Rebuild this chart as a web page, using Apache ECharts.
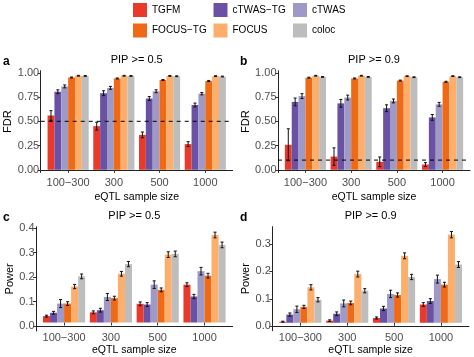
<!DOCTYPE html>
<html>
<head>
<meta charset="utf-8">
<script src="https://cdn.jsdelivr.net/npm/echarts/dist/echarts.min.js"></script>
<style>
html,body{margin:0;padding:0;background:#fff;}
#chart{width:474px;height:357px;}
</style>
</head>
<body>
<div id="chart"></div>
<script>
// ---------- data ----------
const methods = ['TGFM', 'cTWAS−TG', 'cTWAS', 'FOCUS−TG', 'FOCUS', 'coloc'];
const sampleSizes = ['100−300', '300', '500', '1000'];

// rows follow methods, columns follow sampleSizes
const fdr05Mean = [
  [0.560, 0.450, 0.360, 0.265],
  [0.805, 0.790, 0.735, 0.668],
  [0.860, 0.845, 0.810, 0.785],
  [0.952, 0.942, 0.926, 0.915],
  [0.970, 0.970, 0.968, 0.966],
  [0.968, 0.968, 0.965, 0.962]
];
const fdr05Err = [
  [0.050, 0.040, 0.030, 0.025],
  [0.020, 0.025, 0.020, 0.020],
  [0.015, 0.015, 0.015, 0.012],
  [0.005, 0.005, 0.005, 0.005],
  [0.004, 0.004, 0.004, 0.004],
  [0.004, 0.004, 0.004, 0.004]
];
const fdr09Mean = [
  [0.258, 0.136, 0.082, 0.054],
  [0.700, 0.685, 0.635, 0.540],
  [0.760, 0.745, 0.710, 0.675],
  [0.950, 0.942, 0.920, 0.908],
  [0.970, 0.970, 0.966, 0.966],
  [0.958, 0.958, 0.955, 0.955]
];
const fdr09Err = [
  [0.165, 0.090, 0.050, 0.020],
  [0.040, 0.040, 0.035, 0.030],
  [0.025, 0.025, 0.020, 0.020],
  [0.005, 0.005, 0.005, 0.005],
  [0.004, 0.004, 0.004, 0.004],
  [0.004, 0.004, 0.004, 0.004]
];
const pow05Mean = [
  [0.027, 0.043, 0.079, 0.160],
  [0.041, 0.052, 0.076, 0.110],
  [0.080, 0.108, 0.160, 0.217],
  [0.080, 0.103, 0.138, 0.198],
  [0.152, 0.206, 0.287, 0.370],
  [0.195, 0.247, 0.290, 0.328]
];
const pow05Err = [
  [0.004, 0.006, 0.008, 0.008],
  [0.006, 0.008, 0.008, 0.009],
  [0.017, 0.015, 0.016, 0.016],
  [0.008, 0.008, 0.008, 0.010],
  [0.009, 0.010, 0.012, 0.012],
  [0.010, 0.011, 0.012, 0.012]
];
const pow09Mean = [
  [0.004, 0.008, 0.018, 0.069],
  [0.031, 0.034, 0.054, 0.082],
  [0.051, 0.073, 0.109, 0.165],
  [0.060, 0.075, 0.105, 0.144],
  [0.134, 0.184, 0.253, 0.333],
  [0.087, 0.121, 0.173, 0.220]
];
const pow09Err = [
  [0.002, 0.003, 0.004, 0.007],
  [0.006, 0.007, 0.008, 0.009],
  [0.012, 0.013, 0.014, 0.015],
  [0.006, 0.007, 0.008, 0.009],
  [0.010, 0.011, 0.011, 0.012],
  [0.008, 0.008, 0.010, 0.011]
];
const fdrTicks = [0, 0.25, 0.5, 0.75, 1.0];
const pow05Ticks = [0, 0.1, 0.2, 0.3, 0.4];
const pow09Ticks = [0, 0.1, 0.2, 0.3];
const fdrThresholds = [0.5, 0.1];
const panelTitles = ['PIP >= 0.5', 'PIP >= 0.9', 'PIP >= 0.5', 'PIP >= 0.9'];
const panelLetters = ['a', 'b', 'c', 'd'];

// ---------- styling / layout ----------
const colors = ['#E8392B', '#6A51A3', '#9E9AC8', '#EF6A17', '#FDAE6B', '#BDBDBD'];
const FONT = 'Liberation Sans, Arial, Helvetica, sans-serif';

const panels = [
  {mean: fdr05Mean, err: fdr05Err, ticks: fdrTicks, dec: 2, min: -0.028, max: 1.022, yname: 'FDR', thr: fdrThresholds[0],
   frame: {left: 40.7, top: 70.7, width: 192, height: 101.8}, nameGapY: 26, nameGapX: 19, labelMargin: 5},
  {mean: fdr09Mean, err: fdr09Err, ticks: fdrTicks, dec: 2, min: -0.028, max: 1.022, yname: 'FDR', thr: fdrThresholds[1],
   frame: {left: 278, top: 70.7, width: 192, height: 101.8}, nameGapY: 26, nameGapX: 19, labelMargin: 5},
  {mean: pow05Mean, err: pow05Err, ticks: pow05Ticks, dec: 1, min: -0.019, max: 0.405, yname: 'Power', thr: null,
   frame: {left: 36, top: 226.7, width: 196.6, height: 104.3}, nameGapY: 21, nameGapX: 18, labelMargin: 5},
  {mean: pow09Mean, err: pow09Err, ticks: pow09Ticks, dec: 1, min: -0.016, max: 0.363, yname: 'Power', thr: null,
   frame: {left: 272.3, top: 226.7, width: 196.7, height: 104}, nameGapY: 21, nameGapX: 18, labelMargin: 5}
];

const grid = [], xAxis = [], yAxis = [], series = [], title = [];

panels.forEach((p, pi) => {
  const f = p.frame;
  const inset = f.width * 0.1 / 4.2;
  const fi = 2 * pi, bi = 2 * pi + 1;
  grid.push({left: f.left, top: f.top, width: f.width, height: f.height});
  grid.push({left: f.left + inset, top: f.top, width: f.width - 2 * inset, height: f.height});

  // frame axes
  xAxis.push({type: 'value', gridIndex: fi, min: 0, max: 1,
    axisLine: {show: true, lineStyle: {color: '#222', width: 1}},
    axisTick: {show: false}, axisLabel: {show: false}, splitLine: {show: false}});
  yAxis.push({type: 'value', gridIndex: fi, min: p.min, max: p.max,
    name: p.yname, nameLocation: 'middle', nameGap: p.nameGapY, nameRotate: 90,
    nameTextStyle: {fontFamily: FONT, fontSize: 11, color: '#000'},
    axisLine: {show: true, lineStyle: {color: '#222', width: 1}},
    axisTick: {show: true, length: 3, customValues: p.ticks, lineStyle: {color: '#333'}},
    axisLabel: {show: true, customValues: p.ticks, margin: 1.5, fontFamily: FONT, fontSize: 11, color: '#4D4D4D',
      formatter: v => Number(v).toFixed(p.dec)},
    splitLine: {show: false}});

  // bar axes
  xAxis.push({type: 'category', gridIndex: bi, data: sampleSizes,
    name: 'eQTL sample size', nameLocation: 'middle', nameGap: p.nameGapX,
    nameTextStyle: {fontFamily: FONT, fontSize: 10.5, color: '#000'},
    axisLine: {show: false},
    axisTick: {show: true, alignWithLabel: true, length: 3, lineStyle: {color: '#333'}},
    axisLabel: {interval: 0, margin: p.labelMargin, fontFamily: FONT, fontSize: 11, color: '#4D4D4D'},
    splitLine: {show: false}});
  yAxis.push({type: 'value', gridIndex: bi, min: p.min, max: p.max, show: false, splitLine: {show: false}});

  methods.forEach((m, k) => {
    series.push({type: 'bar', name: m, xAxisIndex: bi, yAxisIndex: bi, data: p.mean[k],
      barGap: '0%', barCategoryGap: '10%', itemStyle: {color: colors[k]}, z: 2,
      emphasis: {disabled: true}, animation: false});
  });

  const errData = [];
  methods.forEach((m, k) => {
    sampleSizes.forEach((s, ci) => {
      errData.push([ci, p.mean[k][ci] - p.err[k][ci], p.mean[k][ci] + p.err[k][ci], k]);
    });
  });
  series.push({type: 'custom', xAxisIndex: bi, yAxisIndex: bi, data: errData, z: 4, animation: false,
    encode: {x: 0, y: [1, 2]},
    renderItem: (params, api) => {
      const ci = api.value(0), lo = api.value(1), hi = api.value(2), k = api.value(3);
      const band = api.size([1, 0])[0];
      const bw = band * 0.9 / methods.length;
      const cx = api.coord([ci, 0])[0] - band * 0.45 + bw * (k + 0.5);
      const y1 = api.coord([ci, lo])[1], y2 = api.coord([ci, hi])[1];
      const cap = bw * 0.22;
      const st = {stroke: '#111', lineWidth: 1};
      return {type: 'group', children: [
        {type: 'line', shape: {x1: cx, y1: y1, x2: cx, y2: y2}, style: st},
        {type: 'line', shape: {x1: cx - cap, y1: y1, x2: cx + cap, y2: y1}, style: st},
        {type: 'line', shape: {x1: cx - cap, y1: y2, x2: cx + cap, y2: y2}, style: st}
      ]};
    }});

  if (p.thr !== null) {
    series.push({type: 'line', xAxisIndex: fi, yAxisIndex: fi, data: [[0, p.thr], [1, p.thr]],
      symbol: 'none', z: 5, animation: false, silent: true,
      lineStyle: {color: '#000', width: 1, type: [4, 4]}});
  }

  const cx = f.left + f.width / 2;
  title.push({text: panelTitles[pi], left: cx, top: f.top - 16, textAlign: 'center', padding: 0,
    textStyle: {fontFamily: FONT, fontSize: 11, fontWeight: 'normal', color: '#000'}});
  title.push({text: panelLetters[pi], left: (pi % 2 === 0) ? 3 : 240, top: f.top - 15, padding: 0,
    textStyle: {fontFamily: FONT, fontSize: 12, fontWeight: 'bold', color: '#000'}});
});

const legendCommon = {orient: 'vertical', top: 3, itemWidth: 14, itemHeight: 14, itemGap: 6.5, icon: 'rect',
  padding: 0, selectedMode: false, textStyle: {fontFamily: FONT, fontSize: 10, color: '#000'}};
const legend = [
  Object.assign({}, legendCommon, {left: 133, data: [methods[0], methods[3]]}),
  Object.assign({}, legendCommon, {left: 213.5, data: [methods[1], methods[4]]}),
  Object.assign({}, legendCommon, {left: 293, data: [methods[2], methods[5]]})
];

const chart = echarts.init(document.getElementById('chart'), null, {renderer: 'canvas'});
chart.setOption({backgroundColor: '#fff', animation: false, grid, xAxis, yAxis, series, title, legend});
</script>
</body>
</html>
